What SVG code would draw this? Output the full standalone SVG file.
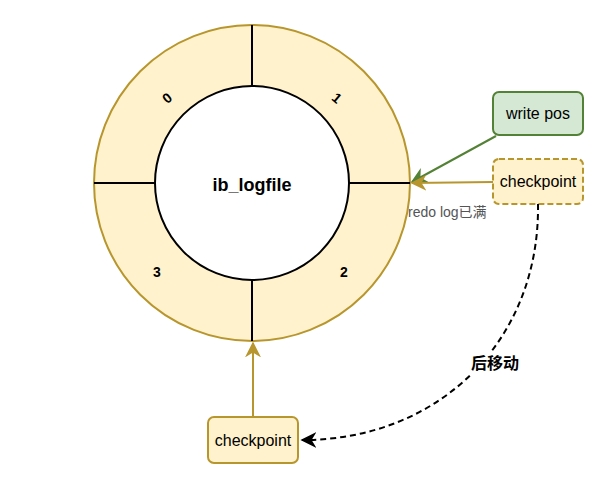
<svg xmlns="http://www.w3.org/2000/svg" width="611" height="494" viewBox="0 0 611 494">
<style>
text{font-family:"Liberation Sans",Arial,"Noto Sans CJK SC",sans-serif}
.seg{stroke:#000;stroke-width:2}
.q{font-size:14px;font-weight:bold;text-anchor:middle}
.bt{font-size:16px;text-anchor:middle}
</style>
<defs>
<marker id="ag" viewBox="0 0 10 10" refX="9" refY="5" markerWidth="8" markerHeight="8" orient="auto"><path d="M0,0L10,5L0,10L3,5z" fill="#538135"/></marker>
<marker id="ay" viewBox="0 0 10 10" refX="9" refY="5" markerWidth="8" markerHeight="8" orient="auto"><path d="M0,0L10,5L0,10L3,5z" fill="#b8962e"/></marker>
<marker id="ak" viewBox="0 0 10 10" refX="9" refY="5" markerWidth="8" markerHeight="8" orient="auto"><path d="M0,0L10,5L0,10L3,5z" fill="#000"/></marker>
</defs>
<g id="ring">
<circle cx="252" cy="183" r="158" fill="#fff2cc" stroke="#b8962e" stroke-width="2"/>
<circle cx="252" cy="183" r="97" fill="#fff" stroke="#000" stroke-width="2"/>
<line class="seg" x1="252" y1="25" x2="252" y2="86"/>
<line class="seg" x1="252" y1="280" x2="252" y2="341"/>
<line class="seg" x1="94" y1="183" x2="155" y2="183"/>
<line class="seg" x1="349" y1="183" x2="410" y2="183"/>
<text class="q" x="167" y="103" transform="rotate(-40 167 98)">0</text>
<text class="q" x="337" y="103" transform="rotate(40 337 98)">1</text>
<text class="q" x="157" y="277">3</text>
<text class="q" x="344" y="277">2</text>
<text x="252" y="191" font-size="18" font-weight="bold" text-anchor="middle">ib_logfile</text>
</g>
<g id="writepos"><rect x="493" y="92" width="90" height="43" rx="6" fill="#d5e8d4" stroke="#538135" stroke-width="2"/><text class="bt" x="538" y="119">write pos</text></g>
<g id="checkpoint1"><rect x="493" y="159" width="90" height="45" rx="6" fill="#fff2cc" stroke="#b8962e" stroke-width="2" stroke-dasharray="6 3"/><text class="bt" x="538" y="187">checkpoint</text></g>
<g id="checkpoint2"><rect x="208" y="417" width="90" height="46" rx="6" fill="#fff2cc" stroke="#b8962e" stroke-width="2"/><text class="bt" x="253" y="446">checkpoint</text></g>
<g id="connectors">
<line x1="496" y1="136" x2="412" y2="182" stroke="#538135" stroke-width="2" marker-end="url(#ag)"/>
<line x1="493" y1="182" x2="412" y2="183" stroke="#b8962e" stroke-width="2" marker-end="url(#ay)"/>
<line x1="253" y1="417" x2="253" y2="343" stroke="#b8962e" stroke-width="2" marker-end="url(#ay)"/>
<path d="M538,204 C540,340 440,440 302,440" fill="none" stroke="#000" stroke-width="2" stroke-dasharray="6 4" marker-end="url(#ak)"/>
<text x="408" y="217" font-size="14" fill="#555">redo log已满</text>
<rect x="465" y="352" width="60" height="22" fill="#fff"/>
<text x="495" y="369" font-size="16" font-weight="bold" text-anchor="middle">后移动</text>
</g>
</svg>
